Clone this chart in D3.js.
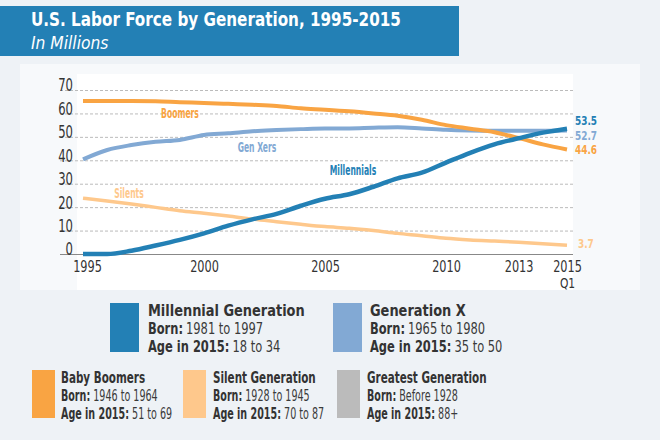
<!DOCTYPE html>
<html>
<head>
<meta charset="utf-8">
<script src="https://cdn.jsdelivr.net/npm/d3@7"></script>
<style>
  body { margin: 0; background: #eef2f6; }
  svg { display: block; }
  text { font-family: "DejaVu Sans Condensed", "DejaVu Sans", sans-serif; }
</style>
</head>
<body>
<svg id="chart" width="660" height="440"></svg>
<script>
// values, millions of workers
const years = [1995, 1996, 1997, 1998, 1999, 2000, 2001, 2002, 2003, 2004, 2005,
               2006, 2007, 2008, 2009, 2010, 2011, 2012, 2013, 2014, 2015];
const millennials = [0, 0, 1.4, 3.6, 6.0, 8.8, 12.1, 14.8, 17.1, 20.6, 23.6,
                     25.5, 28.7, 32.3, 34.7, 39.0, 43.2, 46.8, 49.4, 51.8, 53.5];
const genX = [40.4, 44.4, 46.5, 47.9, 48.7, 50.8, 51.5, 52.4, 52.9, 53.3, 53.6,
              53.6, 53.9, 54.1, 53.6, 53.0, 52.7, 52.6, 52.6, 52.6, 52.7];
const boomers = [65.3, 65.3, 65.3, 65.2, 64.8, 64.5, 64.1, 63.7, 63.2, 62.2, 61.6,
                 60.9, 60.0, 59.0, 57.3, 55.0, 53.5, 52.0, 49.5, 46.8, 44.6];
const silents = [23.8, 22.6, 21.3, 19.9, 18.5, 17.4, 16.2, 14.9, 13.8, 12.7, 11.7,
                 11.0, 10.0, 8.8, 7.8, 6.7, 6.0, 5.5, 5.0, 4.4, 3.7];

const yTicks = [0, 10, 20, 30, 40, 50, 60, 70];
const xTicks = [1995, 2000, 2005, 2010, 2013, 2015];

const legendNames = ["Millennial Generation", "Generation X", "Baby Boomers", "Silent Generation", "Greatest Generation"];
const legendBorn = ["1981 to 1997", "1965 to 1980", "1946 to 1964", "1928 to 1945", "Before 1928"];
const legendAge = ["18 to 34", "35 to 50", "51 to 69", "70 to 87", "88+"];
const legendColors = ["#2380b5", "#82a9d4", "#f9a443", "#fec88c", "#bbbbbb"];

// the reference face is a condensed one, so squeeze the text horizontally
// around its own x anchor
function squeeze(sel, k) {
  sel.each(function() {
    const x0 = +this.getAttribute("x") || 0;
    d3.select(this).attr("transform", `translate(${x0 * (1 - k)},0) scale(${k},1)`);
  });
}

const svg = d3.select("#chart");

// title band
svg.append("rect").attr("x", 0).attr("y", 6).attr("width", 459).attr("height", 50).attr("fill", "#2380b5");
svg.append("text").attr("x", 31).attr("y", 26)
  .attr("fill", "#fff").attr("font-size", 19).attr("font-weight", "bold")
  .text("U.S. Labor Force by Generation, 1995-2015")
  .call(squeeze, 0.89);
svg.append("text").attr("x", 31).attr("y", 49)
  .attr("fill", "#fff").attr("font-size", 18).attr("font-style", "italic")
  .text("In Millions")
  .call(squeeze, 0.96);

// chart panel
svg.append("rect").attr("x", 20).attr("y", 64).attr("width", 620).attr("height", 226).attr("fill", "#f7f9fb");
svg.append("rect").attr("x", 77).attr("y", 74).attr("width", 496).attr("height", 216).attr("fill", "#fff");

const x = d3.scaleLinear().domain([1995, 2015]).range([83, 567]);
const y = d3.scaleLinear().domain([0, 70]).range([254, 90]);

// y axis with gridlines
const yAxis = svg.append("g").attr("transform", "translate(60,0)")
  .call(d3.axisRight(y).tickValues(yTicks).tickSize(513));
yAxis.select(".domain").remove();
yAxis.selectAll(".tick line")
  .attr("stroke", d => d === 0 ? "#888" : "#bbb")
  .attr("stroke-dasharray", d => d === 0 ? null : "3,2");
yAxis.selectAll(".tick text")
  .attr("x", 13).attr("dy", "0.05em")
  .attr("text-anchor", "end")
  .attr("font-family", null)
  .attr("font-size", 17).attr("fill", "#333")
  .call(squeeze, 0.76);

// x axis
const xAxis = svg.append("g").attr("transform", "translate(0,254)")
  .call(d3.axisBottom(x).tickValues(xTicks).tickSize(0).tickFormat(d3.format("d")));
xAxis.select(".domain").remove();
xAxis.selectAll(".tick text")
  .attr("x", d => d === 1995 ? 4 : 0)
  .attr("y", 18).attr("dy", 0)
  .attr("font-family", null)
  .attr("font-size", 15.5).attr("fill", "#333")
  .call(squeeze, 0.81);
xAxis.selectAll(".tick").filter(d => d === 2015)
  .append("text")
  .attr("x", 0).attr("y", 34).attr("text-anchor", "middle")
  .attr("font-size", 14).attr("fill", "#333")
  .text("Q1")
  .call(squeeze, 0.85);

// lines
const series = [
  { name: "Silents", values: silents, color: "#fec88c", w: 3.5, lx: 129, ly: 198 },
  { name: "Gen Xers", values: genX, color: "#82a9d4", w: 4, lx: 257, ly: 152 },
  { name: "Boomers", values: boomers, color: "#f9a443", w: 4, lx: 180, ly: 118 },
  { name: "Millennials", values: millennials, color: "#2380b5", w: 4.5, lx: 353, ly: 175 }
];

const line = d3.line()
  .x((d, i) => x(years[i]))
  .y(d => y(d))
  .curve(d3.curveMonotoneX);

svg.append("g").selectAll("path")
  .data(series)
  .join("path")
  .attr("d", d => line(d.values))
  .attr("fill", "none")
  .attr("stroke", d => d.color)
  .attr("stroke-width", d => d.w);

// in-chart series labels
svg.append("g").selectAll("text")
  .data(series)
  .join("text")
  .attr("x", d => d.lx).attr("y", d => d.ly)
  .attr("text-anchor", "middle")
  .attr("font-size", 13.5).attr("font-weight", "bold")
  .attr("fill", d => d.color)
  .text(d => d.name)
  .call(squeeze, 0.63);

// end values
const ends = [
  { v: millennials[20], color: "#2380b5", ly: 125.5 },
  { v: genX[20], color: "#82a9d4", ly: 140 },
  { v: boomers[20], color: "#f9a443", ly: 154.5 },
  { v: silents[20], color: "#fec88c", ly: 248 }
];
svg.append("g").selectAll("text")
  .data(ends)
  .join("text")
  .attr("x", (d, i) => i === 3 ? 578 : 575).attr("y", d => d.ly)
  .attr("font-size", 12.4).attr("font-weight", "bold")
  .attr("fill", d => d.color)
  .text(d => d3.format(".1f")(d.v))
  .call(squeeze, 0.8);

// legend
const legendPos = [
  { sx: 110, top: 303, sw: 29, sh: 49, tx: 38, kt: 0.96, kl: 0.85 },
  { sx: 333, top: 303, sw: 29, sh: 49, tx: 37, kt: 0.96, kl: 0.85 },
  { sx: 32, top: 370, sw: 23, sh: 48, tx: 29, kt: 0.77, kl: 0.71 },
  { sx: 183, top: 370, sw: 23, sh: 48, tx: 30, kt: 0.77, kl: 0.71 },
  { sx: 337, top: 370, sw: 23, sh: 48, tx: 30, kt: 0.77, kl: 0.71 }
];
const leg = svg.append("g").selectAll("g")
  .data(legendNames)
  .join("g")
  .attr("transform", (d, i) => `translate(${legendPos[i].sx},${legendPos[i].top})`);

leg.append("rect")
  .attr("width", (d, i) => legendPos[i].sw)
  .attr("height", (d, i) => legendPos[i].sh)
  .attr("fill", (d, i) => legendColors[i]);

leg.append("text")
  .attr("x", (d, i) => legendPos[i].tx).attr("y", 13)
  .attr("font-size", 15).attr("font-weight", "bold").attr("fill", "#333")
  .text(d => d)
  .each(function(d, i) { squeeze(d3.select(this), legendPos[i].kt); });

// a bold lead-in followed by a plain value, as two texts side by side
function legendLine(g, i, yy, label, value) {
  const p = legendPos[i];
  const lead = g.append("text").attr("x", p.tx).attr("y", yy)
    .attr("font-size", 15).attr("font-weight", "bold").attr("fill", "#333")
    .text(label);
  const w = lead.node().getComputedTextLength() * p.kl;
  lead.call(squeeze, p.kl);
  g.append("text").attr("x", p.tx + w + 3).attr("y", yy)
    .attr("font-size", 15).attr("fill", "#3a3a3a")
    .text(value)
    .call(squeeze, p.kl);
}

leg.each(function(d, i) {
  const g = d3.select(this);
  legendLine(g, i, 31, "Born:", legendBorn[i]);
  legendLine(g, i, 49, "Age in 2015:", legendAge[i]);
});
</script>
</body>
</html>
